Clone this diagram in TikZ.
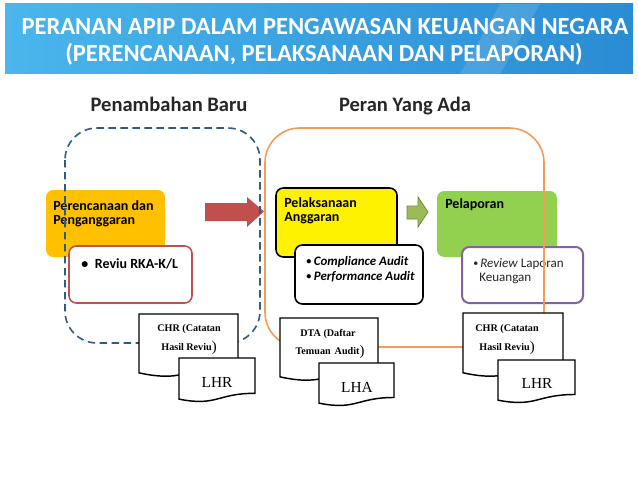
\documentclass[tikz,border=0pt]{standalone}
\usepackage{fontspec}
\setmainfont{Carlito}
\newfontfamily\serifdoc{Liberation Serif}
\definecolor{gold}{HTML}{FFC000}
\definecolor{redbox}{HTML}{C0504D}
\definecolor{bluedash}{HTML}{2E5A8C}
\definecolor{orangeln}{HTML}{F59D56}
\definecolor{greenbox}{HTML}{92D050}
\definecolor{greenarrow}{HTML}{9BBB59}
\definecolor{greenarrowdk}{HTML}{71893F}
\definecolor{purplebox}{HTML}{8064A2}
\definecolor{bannerL}{HTML}{4AB6EC}
\definecolor{bannerR}{HTML}{2A8CD4}
\definecolor{bodytxt}{HTML}{262626}
\newcommand\mydoc[4]{%
  \filldraw[docstyle] (#1,#2) -- (#3,#2) -- (#3,{#2+0.802*#4})
    .. controls ({(#1+#3)/2},{#2+0.802*#4}) and ({(#1+#3)/2},{#2+1.107*#4}) .. (#1,{#2+0.934*#4}) -- cycle;}
\newcommand\smallbul{{\fontsize{7.5pt}{8pt}\selectfont\raisebox{0.6pt}{\textbullet}}}
\begin{document}
\begin{tikzpicture}[x=0.75pt,y=-0.75pt,
  titletxt/.style={text=white,font=\fontsize{18.4pt}{20pt}\selectfont\bfseries,inner sep=0pt,anchor=base},
  headtxt/.style={text=bodytxt,font=\fontsize{15.4pt}{17pt}\selectfont\bfseries,inner sep=0pt,anchor=base},
  boxtxt/.style={text=black,font=\fontsize{10.5pt}{12pt}\selectfont\bfseries,inner sep=0pt,anchor=base west},
  itemtxt/.style={text=black,font=\fontsize{9.7pt}{11pt}\selectfont\bfseries\itshape,inner sep=0pt,anchor=base west},
  revtxt/.style={text=bodytxt,font=\fontsize{9.8pt}{11pt}\selectfont,inner sep=0pt,anchor=base west},
  doctxt/.style={text=black,font=\fontsize{7.6pt}{9pt}\selectfont\serifdoc\bfseries,inner sep=0pt,anchor=base},
  docbig/.style={text=black,font=\fontsize{11.5pt}{13pt}\selectfont\serifdoc,inner sep=0pt,anchor=base},
  docstyle/.style={draw=black,fill=white,line width=1.1pt},
  softbox/.style={rounded corners=5.5pt},
  outlinebox/.style={fill=white,line width=1.2pt,rounded corners=5.5pt}]
\useasboundingbox (0,0) rectangle (638,478);
\fill[white] (0,0) rectangle (638,478);
% banner
\shade[left color=bannerL,right color=bannerR] (5,4) rectangle (633,74);
\fill[white,opacity=0.12] (500,4) -- (540,4) -- (500,74) -- (460,74) -- cycle;
\node[titletxt] (t1) at (325,35) {PERANAN APIP DALAM PENGAWASAN KEUANGAN NEGARA};
\node[titletxt] (t2) at (324,62) {(PERENCANAAN, PELAKSANAAN DAN PELAPORAN)};
% headers
\node[headtxt] (h1) at (169,111) {Penambahan Baru};
\node[headtxt] (h2) at (405,111) {Peran Yang Ada};
% boxes
\fill[gold,softbox] (46,190) rectangle (165,257);
\draw[redbox,outlinebox] (69,246) rectangle (192,303);
\fill[yellow,draw=black,line width=1.2pt,softbox] (276,188) rectangle (397,257);
\draw[black,outlinebox] (295,245) rectangle (423,304);
\fill[greenbox,softbox] (437,191) rectangle (557,257);
\draw[purplebox,outlinebox,line width=1.5pt] (462,247) rectangle (583,303);
% texts in boxes
\node[boxtxt] (p1) at (53,210) {Perencanaan dan};
\node[boxtxt] (p2) at (53,224) {Penganggaran};
\node[boxtxt] (r1) at (81,268) {\textbullet\hspace{5pt}Reviu RKA-K/L};
\node[boxtxt] (a1) at (284,207) {Pelaksanaan};
\node[boxtxt] (a2) at (284,221.5) {Anggaran};
\node[itemtxt] (c1) at (306,265.5) {\smallbul\hspace{2pt}Compliance Audit};
\node[itemtxt] (c2) at (306,280.5) {\smallbul\hspace{2pt}Performance Audit};
\node[boxtxt] (l1) at (445,208) {Pelaporan};
\node[revtxt] (v1) at (473,267) {\smallbul\hspace{1.5pt}\textit{Review} Laporan};
\node[revtxt] (v2) at (479,281) {Keuangan};
% arrows
\fill[redbox] (205,203) -- (247,203) -- (247,197) -- (264,211.5) -- (247,227) -- (247,221) -- (205,221) -- cycle;
\filldraw[fill=greenarrow,draw=greenarrowdk,line width=0.6pt] (407,206) -- (418,206) -- (418,197) -- (428,212) -- (418,227) -- (418,219) -- (407,219) -- cycle;
% group frames
\draw[bluedash,line width=1.2pt,dash pattern=on 5.5pt off 3.5pt,rounded corners=24pt] (65,128) rectangle (260,343);
\draw[orangeln,line width=1.2pt,rounded corners=26pt] (265,128) rectangle (544,347);
% documents
\mydoc{139}{314}{238}{63}
\mydoc{179}{358}{255}{44}
\mydoc{280}{318}{378}{63}
\mydoc{319}{363}{394}{43}
\mydoc{463}{313}{563}{64}
\mydoc{498}{360}{575}{43}
\node[doctxt] (d1a) at (189,331) {CHR (Catatan};
\node[doctxt] (d1b) at (189,350) {Hasil Reviu\raisebox{-1pt}{\fontsize{11pt}{12pt}\selectfont\mdseries)}};
\node[docbig] (d1c) at (217,387) {LHR};
\node[doctxt] (d2a) at (328,336) {DTA (Daftar};
\node[doctxt] (d2b) at (330,354) {Temuan\hspace{3pt}Audit\raisebox{-1pt}{\fontsize{11pt}{12pt}\selectfont\mdseries)}};
\node[docbig] (d2c) at (357,392) {LHA};
\node[doctxt] (d3a) at (507,331) {CHR (Catatan};
\node[doctxt] (d3b) at (507,350) {Hasil Reviu\raisebox{-1pt}{\fontsize{11pt}{12pt}\selectfont\mdseries)}};
\node[docbig] (d3c) at (537,388) {LHR};
\end{tikzpicture}
\end{document}
